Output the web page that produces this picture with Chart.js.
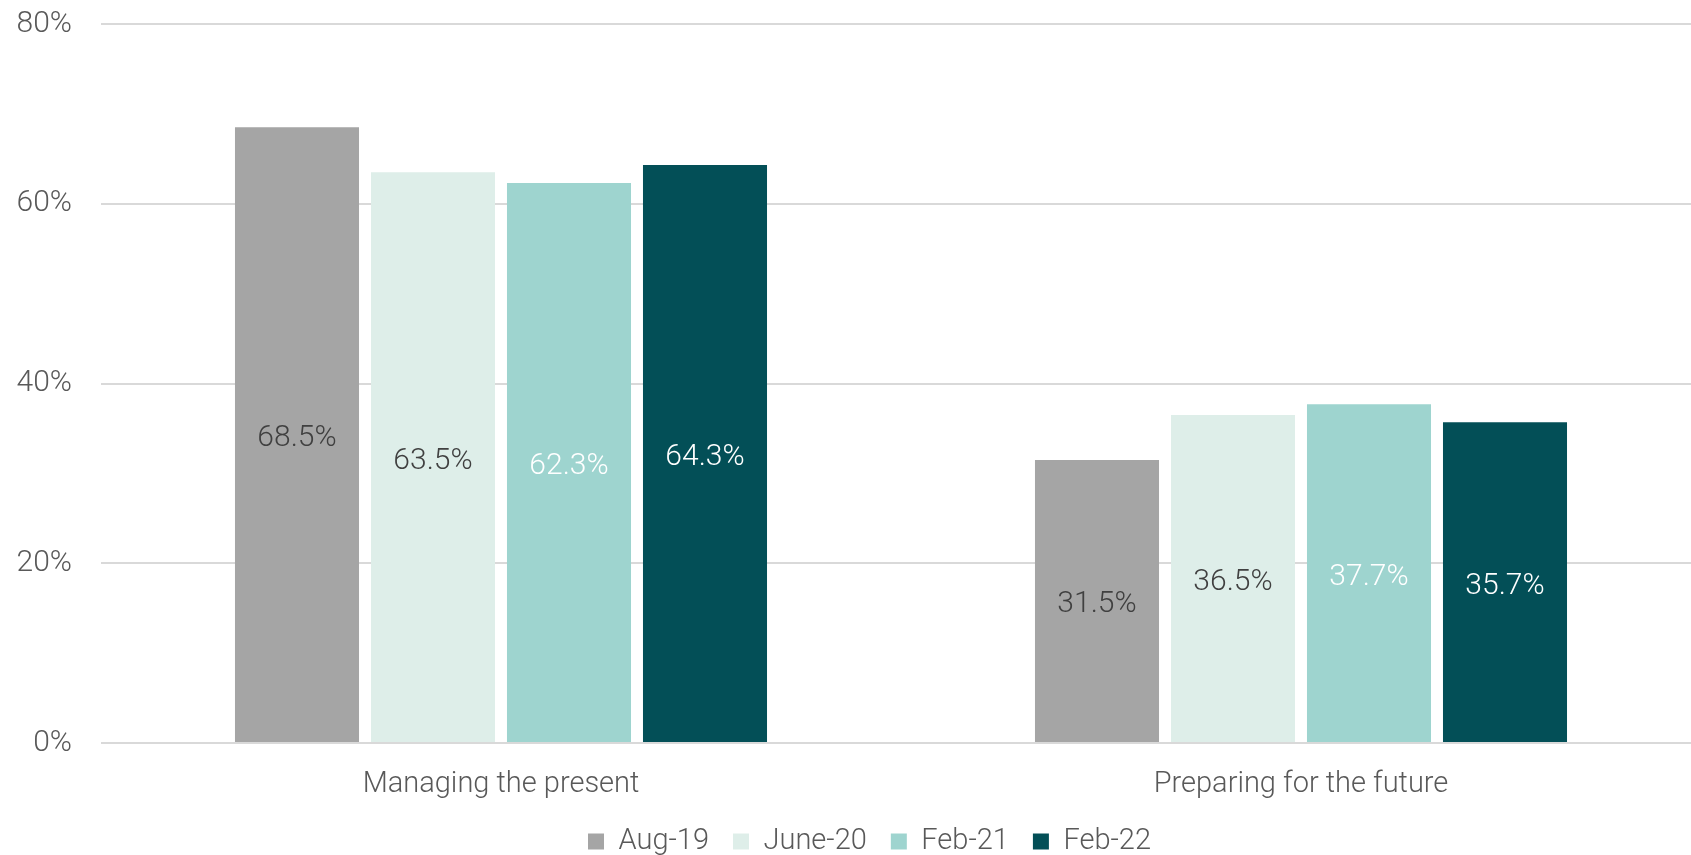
<!DOCTYPE html>
<html>
<head>
<meta charset="utf-8">
<script src="https://cdn.jsdelivr.net/npm/chart.js@4"></script>
<style>
  html, body { margin: 0; padding: 0; background: #ffffff; overflow: hidden; }
  #wrap { position: absolute; left: 0; top: -23px; width: 1701px; height: 878px; }
</style>
</head>
<body>
<div id="wrap"><canvas id="c" width="1701" height="878"></canvas></div>
<script>
const categories = ['Managing the present', 'Preparing for the future'];
const seriesNames = ['Aug-19', 'June-20', 'Feb-21', 'Feb-22'];
const aug19 = [68.5, 31.5];
const june20 = [63.5, 36.5];
const feb21 = [62.3, 37.7];
const feb22 = [64.3, 35.7];
const yTicks = [0, 20, 40, 60, 80];

const barColors = ['#A5A5A5', '#DEEEE9', '#9ED4CF', '#034F57'];
const labelColors = ['#404040', '#404040', '#FFFFFF', '#FFFFFF'];
const FONT = "Roboto, 'Liberation Sans', sans-serif";

const valueLabels = {
  id: 'valueLabels',
  afterDatasetsDraw(chart) {
    const ctx = chart.ctx;
    ctx.save();
    ctx.font = '300 30px ' + FONT;
    ctx.textAlign = 'center';
    ctx.textBaseline = 'middle';
    chart.data.datasets.forEach((ds, i) => {
      const meta = chart.getDatasetMeta(i);
      meta.data.forEach((el, j) => {
        const v = ds.data[j];
        ctx.fillStyle = labelColors[i];
        ctx.fillText(v.toFixed(1) + '%', el.x, (el.y + el.base) / 2 + 4);
      });
    });
    ctx.restore();
  }
};

const legendShift = {
  id: 'legendShift',
  afterLayout(chart) {
    if (chart.legend) {
      chart.legend.left += 19;
      chart.legend.right += 19;
    }
  }
};

const seriesData = [aug19, june20, feb21, feb22];

new Chart(document.getElementById('c'), {
  type: 'bar',
  data: {
    labels: categories,
    datasets: seriesNames.map((name, i) => ({
      label: name,
      data: seriesData[i],
      backgroundColor: barColors[i],
      borderWidth: 0,
      categoryPercentage: 0.68,
      barPercentage: 0.912
    }))
  },
  options: {
    responsive: false,
    animation: false,
    devicePixelRatio: 1,
    layout: { padding: { top: 0, right: 0, bottom: -11, left: 0 } },
    plugins: {
      legend: {
        position: 'bottom',
        labels: {
          boxWidth: 16,
          boxHeight: 16,
          padding: 24,
          color: '#595959',
          font: { family: FONT, size: 29, weight: '300' }
        }
      },
      tooltip: { enabled: false }
    },
    scales: {
      x: {
        afterFit(scale) { scale.height = 60; },
        grid: { display: false, drawTicks: false },
        border: { display: false },
        ticks: {
          color: '#595959',
          padding: 24,
          font: { family: FONT, size: 29, weight: '300' }
        }
      },
      y: {
        min: 0,
        max: 80,
        afterBuildTicks(scale) { scale.ticks = yTicks.map(v => ({ value: v })); },
        afterFit(scale) { scale.width = 101; },
        grid: { color: '#D9D9D9', lineWidth: 2, drawTicks: false },
        border: { display: false },
        ticks: {
          color: '#595959',
          padding: 29,
          font: { family: FONT, size: 30, weight: '300' },
          callback: v => v + '%'
        }
      }
    }
  },
  plugins: [valueLabels, legendShift]
});
</script>
</body>
</html>
